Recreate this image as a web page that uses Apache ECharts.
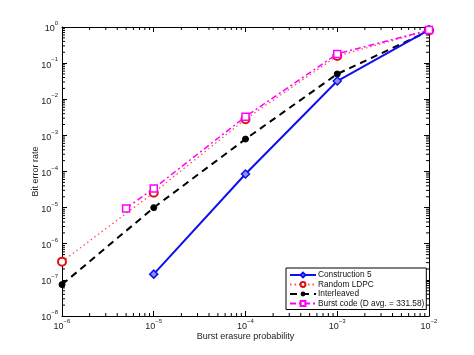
<!DOCTYPE html>
<html><head><meta charset="utf-8">
<script src="https://cdn.jsdelivr.net/npm/echarts@6/dist/echarts.min.js"></script>
<style>html,body{margin:0;padding:0;background:#fff}#c{width:474px;height:355px}</style>
</head><body><div id="c"></div>
<script>
const xConstruction = [1e-5, 1e-4, 1e-3, 1e-2];
const yConstruction = [1.44e-7, 8.5e-5, 3.2e-2, 0.83];
const xRandom = [1e-6, 1e-5, 1e-4, 1e-3, 1e-2];
const yRandom = [3.2e-7, 2.6e-5, 2.8e-3, 0.158, 0.80];
const xInter = [1e-6, 1e-5, 1e-4, 1e-3, 1e-2];
const yInter = [7.4e-8, 1.0e-5, 7.9e-4, 0.05, 0.78];
const xBurst = [5e-6, 1e-5, 1e-4, 1e-3, 1e-2];
const yBurst = [9.5e-6, 3.4e-5, 3.3e-3, 0.18, 0.82];
const seriesNames = ['Construction 5', 'Random LDPC', 'Interleaved', 'Burst code (D avg. = 331.58)'];
const xLabel = 'Burst erasure probability';
const yLabel = 'Bit error rate';
const xMin = 1e-6, xMax = 1e-2, yMin = 1e-8, yMax = 1;

const pair = (xs, ys) => xs.map((x, i) => [x, ys[i]]);
function expOf(v){ return Math.round(Math.log10(v)); }
function fmt(v){ const e = expOf(v); return '{b|10}{s|' + (e < 0 ? '\u2212' + (-e) : e) + '}'; }
const rich = { b: {fontSize: 9, fontFamily: 'Liberation Sans', color: '#222', padding:[4,0,0,0]}, s: {fontSize: 6, fontFamily: 'Liberation Sans', color: '#222', verticalAlign: 'top', padding:[0,0,4,0]} };

// minor tick positions (2..9 in each decade)
const minorTicks = [];
for (let e = -6; e < -2; e++) for (let m = 2; m <= 9; m++) { const v = m * Math.pow(10, e); minorTicks.push([v, yMin, 0]); minorTicks.push([v, yMax, 1]); }
for (let e = -8; e < 0; e++) for (let m = 2; m <= 9; m++) { const v = m * Math.pow(10, e); minorTicks.push([xMin, v, 2]); minorTicks.push([xMax, v, 3]); }

const chart = echarts.init(document.getElementById('c'), null, {renderer: 'canvas'});
const axisCommon = {
  type: 'log', logBase: 10,
  axisLine: {show: true, onZero: false, lineStyle: {color: '#000', width: 1}},
  axisTick: {show: true, inside: true, length: 5, lineStyle: {color: '#000'}},
  splitLine: {show: false}, minorTick: {show: false}
};
chart.setOption({
  animation: false,
  backgroundColor: '#fff',
  grid: {left: 62, right: 45, top: 27, bottom: 39, show: false},
  xAxis: [
    Object.assign({}, axisCommon, {min: xMin, max: xMax, position: 'bottom',
      name: xLabel, nameLocation: 'middle', nameGap: 16, nameMoveOverlap: false,
      nameTextStyle: {fontSize: 9, fontFamily: 'Liberation Sans', color: '#222', verticalAlign: 'top'},
      axisLabel: {formatter: fmt, rich: rich, margin: 2}}),
    Object.assign({}, axisCommon, {min: xMin, max: xMax, position: 'top', axisLabel: {show: false}})
  ],
  yAxis: [
    Object.assign({}, axisCommon, {min: yMin, max: yMax, position: 'left',
      name: yLabel, nameLocation: 'middle', nameGap: 22, nameMoveOverlap: false,
      nameTextStyle: {fontSize: 9, fontFamily: 'Liberation Sans', color: '#222'},
      axisLabel: {formatter: fmt, rich: rich, margin: 4}}),
    Object.assign({}, axisCommon, {min: yMin, max: yMax, position: 'right', axisLabel: {show: false}})
  ],
  legend: {
    data: seriesNames, orient: 'vertical', left: 286, top: 268,
    backgroundColor: '#fff', borderColor: '#000', borderWidth: 1, borderRadius: 0,
    padding: [3, 2, 2, 3], itemGap: 1.5, itemWidth: 26, itemHeight: 6,
    textStyle: {fontSize: 8.3, fontFamily: 'Liberation Sans', color: '#111', padding: [0, 0, 0, -3]}
  },
  series: [
    {name: seriesNames[0], type: 'line', data: pair(xConstruction, yConstruction),
     symbol: 'diamond', symbolSize: 8, color: '#1010ee',
     lineStyle: {width: 2, color: '#1010ee'}, itemStyle: {color: '#9090ff', borderColor: '#1010ee', borderWidth: 1.5}, z: 4},
    {name: seriesNames[1], type: 'line', data: pair(xRandom, yRandom),
     symbol: 'circle', symbolSize: 8, color: '#ee2020',
     lineStyle: {width: 1.3, type: [1.5, 3], color: '#ff5050'}, itemStyle: {color: '#fff', borderColor: '#e01010', borderWidth: 2}, z: 3},
    {name: seriesNames[2], type: 'line', data: pair(xInter, yInter),
     symbol: 'circle', symbolSize: 6, color: '#000',
     lineStyle: {width: 2, type: [7, 5], color: '#000'}, itemStyle: {color: '#000', borderColor: '#000'}, z: 2},
    {name: seriesNames[3], type: 'line', data: pair(xBurst, yBurst),
     symbol: 'rect', symbolSize: 7, color: '#ff00ff',
     lineStyle: {width: 1.5, type: [6, 3, 2, 3], color: '#ff00ff'}, itemStyle: {color: '#fff', borderColor: '#ff00ff', borderWidth: 1.5}, z: 5},
    {type: 'custom', data: minorTicks, clip: false, silent: true, z: 1,
     renderItem: function(params, api){
       const p = api.coord([api.value(0), api.value(1)]);
       const d = api.value(2); const L = 3;
       let x2 = p[0], y2 = p[1];
       if (d === 0) y2 -= L; else if (d === 1) y2 += L; else if (d === 2) x2 += L; else x2 -= L;
       return {type: 'line', shape: {x1: p[0], y1: p[1], x2: x2, y2: y2}, style: {stroke: '#000', lineWidth: 1}};
     }}
  ]
});
</script></body></html>
